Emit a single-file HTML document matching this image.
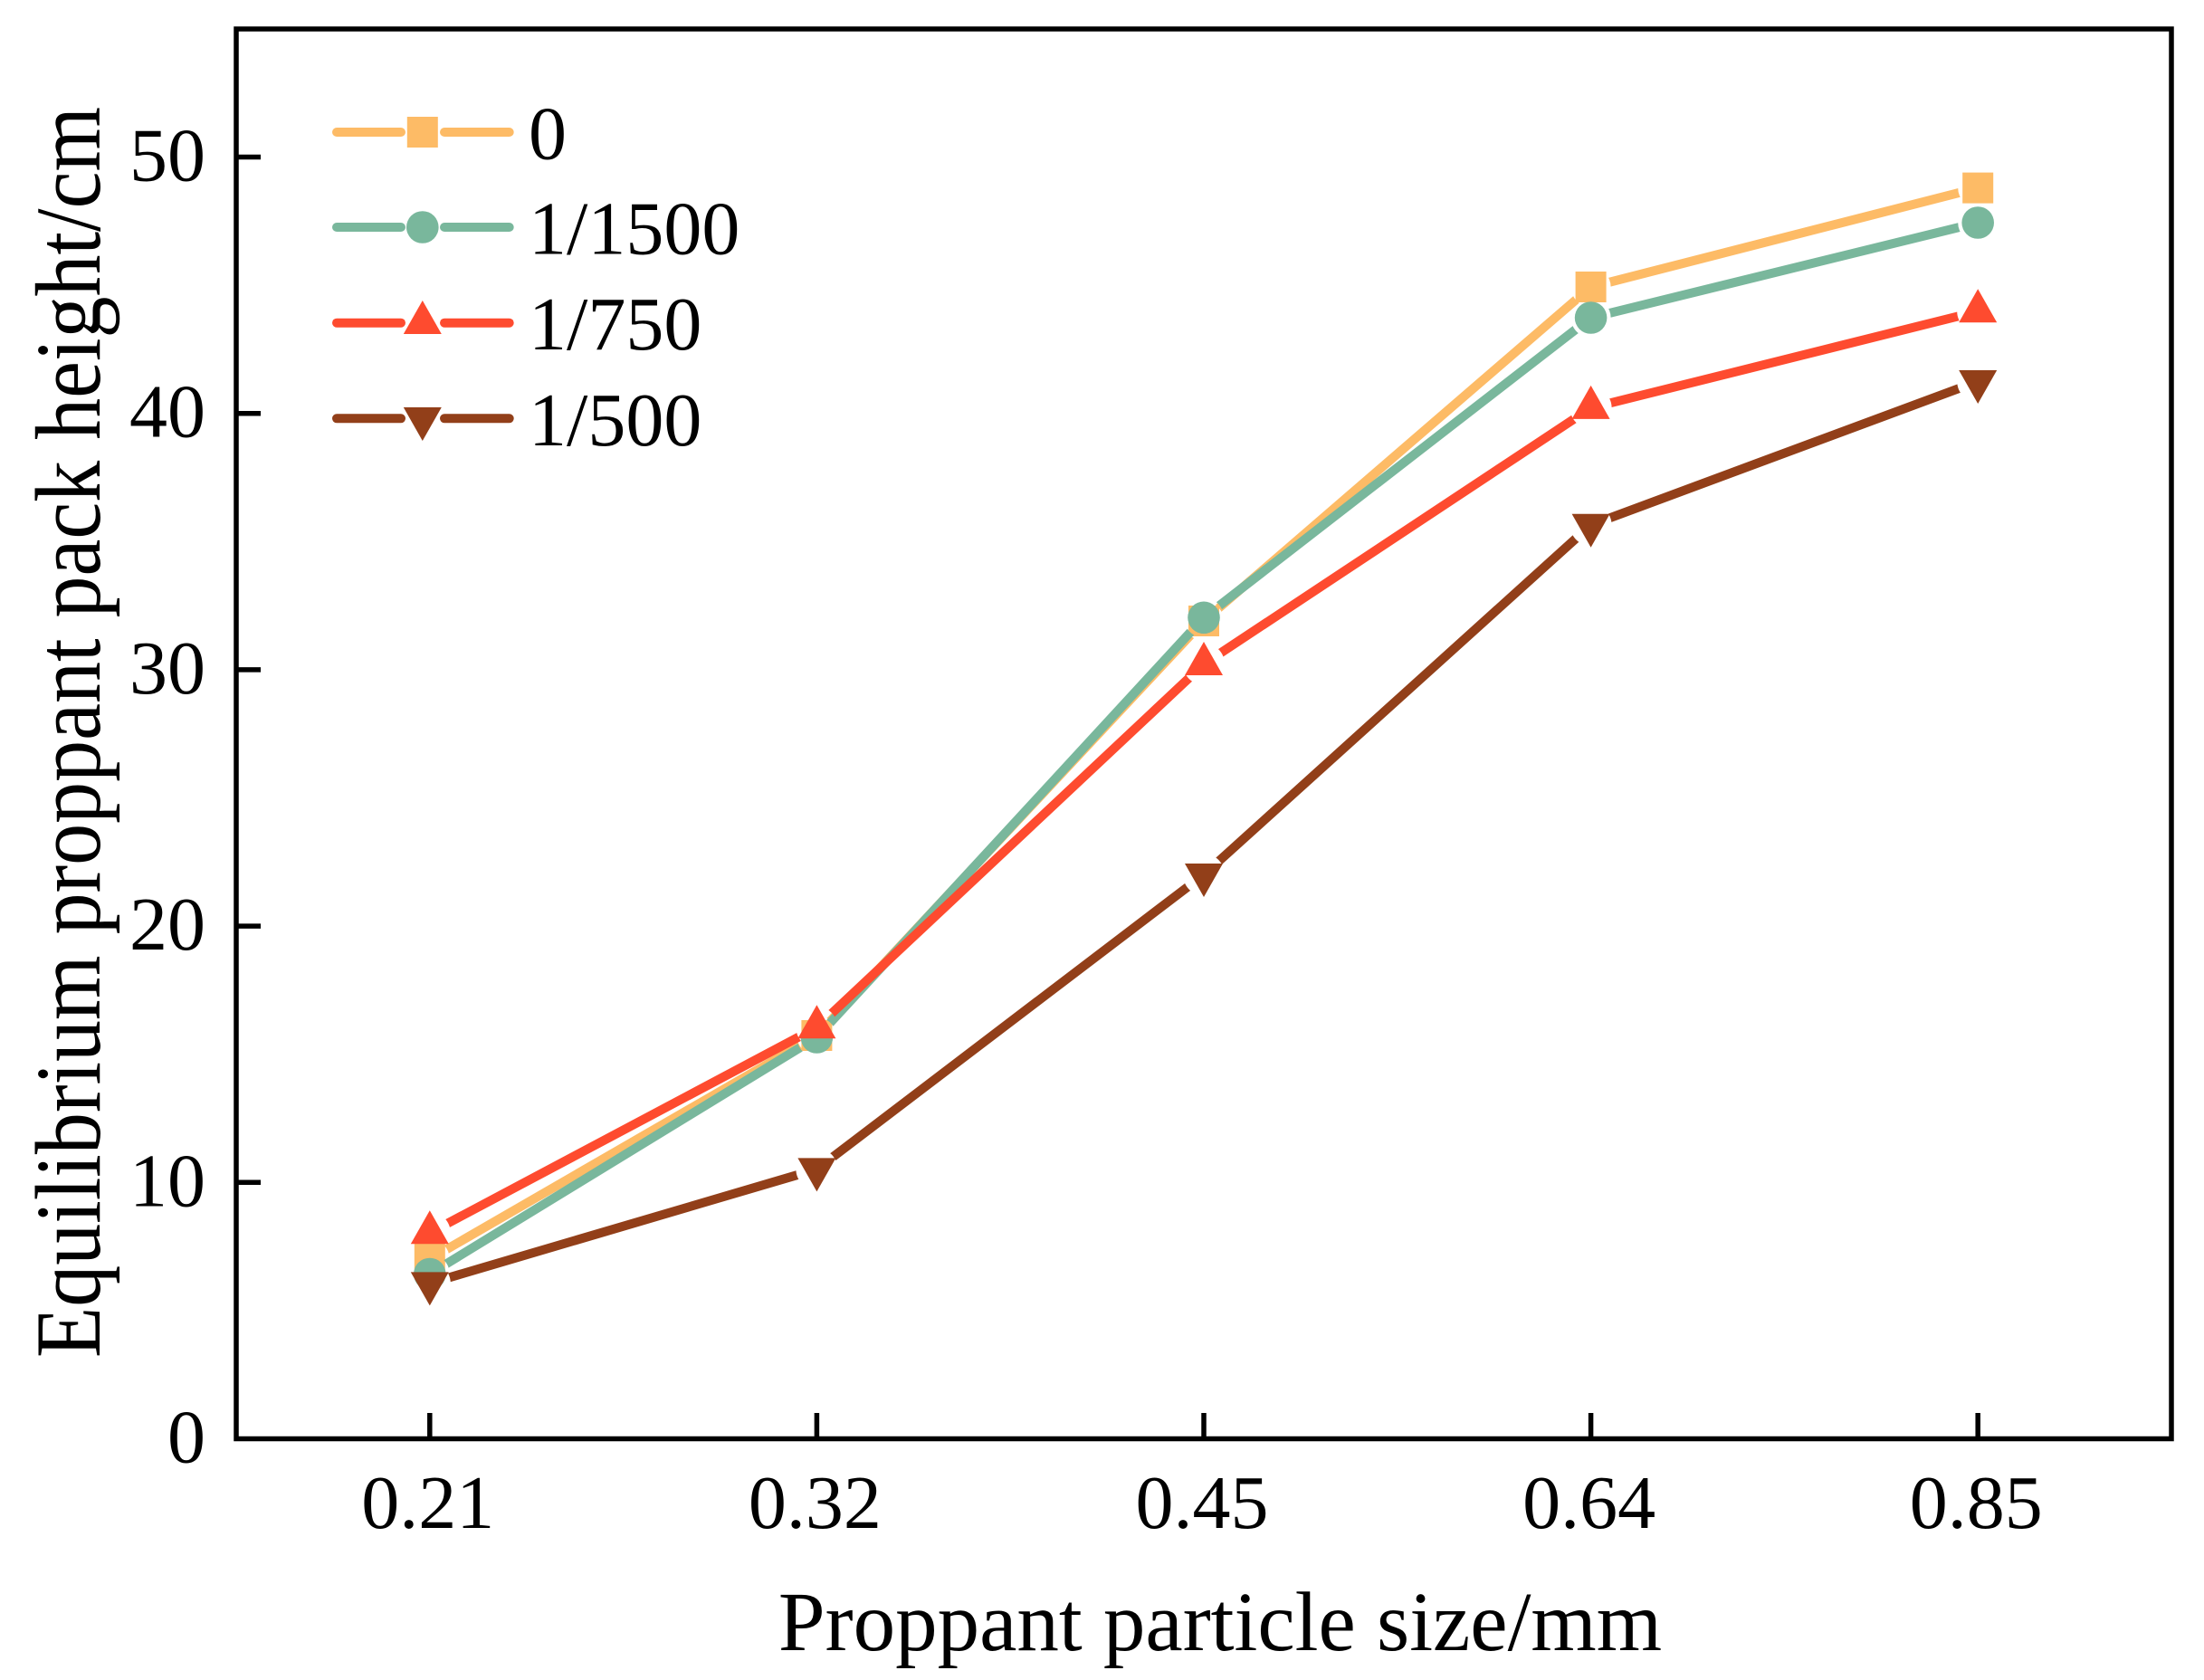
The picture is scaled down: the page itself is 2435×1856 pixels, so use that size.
<!DOCTYPE html>
<html>
<head>
<meta charset="utf-8">
<style>
html,body{margin:0;padding:0;background:#fff;}
svg{display:block;}
text{font-family:"Liberation Serif","Times New Roman",serif;fill:#000;}
</style>
</head>
<body>
<svg width="2435" height="1856" viewBox="0 0 2435 1856" xmlns="http://www.w3.org/2000/svg">
<defs>
<mask id="mO" maskUnits="userSpaceOnUse" x="0" y="0" width="2435" height="1856">
<rect x="0" y="0" width="2435" height="1856" fill="#fff"/>
<circle cx="474.8" cy="1391" r="22" fill="#000"/>
<circle cx="902.4" cy="1144" r="22" fill="#000"/>
<circle cx="1330" cy="686" r="22" fill="#000"/>
<circle cx="1757.6" cy="317" r="22" fill="#000"/>
<circle cx="2185.2" cy="207.6" r="22" fill="#000"/>
</mask>
<mask id="mG" maskUnits="userSpaceOnUse" x="0" y="0" width="2435" height="1856">
<rect x="0" y="0" width="2435" height="1856" fill="#fff"/>
<circle cx="474.8" cy="1407.5" r="22" fill="#000"/>
<circle cx="902.4" cy="1146" r="22" fill="#000"/>
<circle cx="1330" cy="682.3" r="22" fill="#000"/>
<circle cx="1757.6" cy="351" r="22" fill="#000"/>
<circle cx="2185.2" cy="246" r="22" fill="#000"/>
</mask>
<mask id="mR" maskUnits="userSpaceOnUse" x="0" y="0" width="2435" height="1856">
<rect x="0" y="0" width="2435" height="1856" fill="#fff"/>
<circle cx="474.8" cy="1362" r="23" fill="#000"/>
<circle cx="902.4" cy="1135" r="23" fill="#000"/>
<circle cx="1330" cy="733.7" r="23" fill="#000"/>
<circle cx="1757.6" cy="450.6" r="23" fill="#000"/>
<circle cx="2185.2" cy="344" r="23" fill="#000"/>
</mask>
<mask id="mB" maskUnits="userSpaceOnUse" x="0" y="0" width="2435" height="1856">
<rect x="0" y="0" width="2435" height="1856" fill="#fff"/>
<circle cx="474.8" cy="1417.7" r="23" fill="#000"/>
<circle cx="902.4" cy="1291.7" r="23" fill="#000"/>
<circle cx="1330" cy="966.3" r="23" fill="#000"/>
<circle cx="1757.6" cy="580" r="23" fill="#000"/>
<circle cx="2185.2" cy="421.3" r="23" fill="#000"/>
</mask>
</defs>

<rect x="0" y="0" width="2435" height="1856" fill="#fff"/>

<!-- Series 0 (orange squares) -->
<polyline mask="url(#mO)" points="474.8,1391 902.4,1144 1330,686 1757.6,317 2185.2,207.6" fill="none" stroke="#FDBB66" stroke-width="10" stroke-linejoin="round"/>
<g fill="#FDBB66">
<rect x="457.8" y="1374" width="34" height="34"/>
<rect x="885.4" y="1127" width="34" height="34"/>
<rect x="1313" y="669" width="34" height="34"/>
<rect x="1740.6" y="300" width="34" height="34"/>
<rect x="2168.2" y="190.6" width="34" height="34"/>
</g>

<!-- Series 1/1500 (green circles) -->
<polyline mask="url(#mG)" points="474.8,1407.5 902.4,1146 1330,682.3 1757.6,351 2185.2,246" fill="none" stroke="#79B79C" stroke-width="10" stroke-linejoin="round"/>
<g fill="#79B79C">
<circle cx="474.8" cy="1407.5" r="17.8"/>
<circle cx="902.4" cy="1146" r="17.8"/>
<circle cx="1330" cy="682.3" r="17.8"/>
<circle cx="1757.6" cy="351" r="17.8"/>
<circle cx="2185.2" cy="246" r="17.8"/>
</g>

<!-- Series 1/750 (red up triangles) -->
<polyline mask="url(#mR)" points="474.8,1362 902.4,1135 1330,733.7 1757.6,450.6 2185.2,344" fill="none" stroke="#FE4B2F" stroke-width="10" stroke-linejoin="round"/>
<g fill="#FE4B2F">
<polygon points="474.8,1337.3 453.8,1374.3 495.8,1374.3"/>
<polygon points="902.4,1110.3 881.4,1147.3 923.4,1147.3"/>
<polygon points="1330,709 1309,746 1351,746"/>
<polygon points="1757.6,425.9 1736.6,462.9 1778.6,462.9"/>
<polygon points="2185.2,319.3 2164.2,356.3 2206.2,356.3"/>
</g>

<!-- Series 1/500 (brown down triangles) -->
<polyline mask="url(#mB)" points="474.8,1417.7 902.4,1291.7 1330,966.3 1757.6,580 2185.2,421.3" fill="none" stroke="#923F19" stroke-width="10" stroke-linejoin="round"/>
<g fill="#923F19">
<polygon points="474.8,1442.4 453.8,1405.4 495.8,1405.4"/>
<polygon points="902.4,1316.4 881.4,1279.4 923.4,1279.4"/>
<polygon points="1330,991 1309,954 1351,954"/>
<polygon points="1757.6,604.7 1736.6,567.7 1778.6,567.7"/>
<polygon points="2185.2,446 2164.2,409 2206.2,409"/>
</g>

<!-- Frame -->
<rect x="261" y="32" width="2138" height="1557.5" fill="none" stroke="#000" stroke-width="5.5"/>

<!-- Y ticks -->
<g stroke="#000" stroke-width="5.5">
<line x1="261" y1="1306.3" x2="288" y2="1306.3"/>
<line x1="261" y1="1023.1" x2="288" y2="1023.1"/>
<line x1="261" y1="739.9" x2="288" y2="739.9"/>
<line x1="261" y1="456.7" x2="288" y2="456.7"/>
<line x1="261" y1="173.5" x2="288" y2="173.5"/>
<!-- X ticks -->
<line x1="474.8" y1="1589.5" x2="474.8" y2="1561"/>
<line x1="902.4" y1="1589.5" x2="902.4" y2="1561"/>
<line x1="1330" y1="1589.5" x2="1330" y2="1561"/>
<line x1="1757.6" y1="1589.5" x2="1757.6" y2="1561"/>
<line x1="2185.2" y1="1589.5" x2="2185.2" y2="1561"/>
</g>

<!-- Y tick labels -->
<g font-size="84" text-anchor="end">
<text x="227" y="1615.5">0</text>
<text x="227" y="1332.3">10</text>
<text x="227" y="1049.1">20</text>
<text x="227" y="765.9">30</text>
<text x="227" y="482.7">40</text>
<text x="227" y="199.5">50</text>
</g>

<!-- X tick labels -->
<g font-size="84" text-anchor="middle">
<text x="472.8" y="1688">0.21</text>
<text x="900.4" y="1688">0.32</text>
<text x="1328" y="1688">0.45</text>
<text x="1755.6" y="1688">0.64</text>
<text x="2183.2" y="1688">0.85</text>
</g>

<!-- Axis titles -->
<text x="1348" y="1823" font-size="93" text-anchor="middle">Proppant particle size/mm</text>
<text transform="translate(110,809) rotate(-90) scale(1,1.12)" font-size="92" text-anchor="middle">Equilibrium proppant pack height/cm</text>

<!-- Legend -->
<g stroke-width="10" stroke-linecap="round">
<line x1="372" y1="146" x2="443" y2="146" stroke="#FDBB66"/>
<line x1="491" y1="146" x2="562.7" y2="146" stroke="#FDBB66"/>
<line x1="372" y1="251" x2="443" y2="251" stroke="#79B79C"/>
<line x1="491" y1="251" x2="562.7" y2="251" stroke="#79B79C"/>
<line x1="372" y1="356.7" x2="443" y2="356.7" stroke="#FE4B2F"/>
<line x1="491" y1="356.7" x2="562.7" y2="356.7" stroke="#FE4B2F"/>
<line x1="372" y1="462.3" x2="443" y2="462.3" stroke="#923F19"/>
<line x1="491" y1="462.3" x2="562.7" y2="462.3" stroke="#923F19"/>
</g>
<rect x="449.8" y="129" width="34" height="34" fill="#FDBB66"/>
<circle cx="466.8" cy="251" r="17.8" fill="#79B79C"/>
<polygon points="466.8,332 445.8,369 487.8,369" fill="#FE4B2F"/>
<polygon points="466.8,487 445.8,450 487.8,450" fill="#923F19"/>
<g font-size="84">
<text x="584" y="175.5">0</text>
<text x="584" y="280.5">1/1500</text>
<text x="584" y="386">1/750</text>
<text x="584" y="491.8">1/500</text>
</g>
</svg>
</body>
</html>
